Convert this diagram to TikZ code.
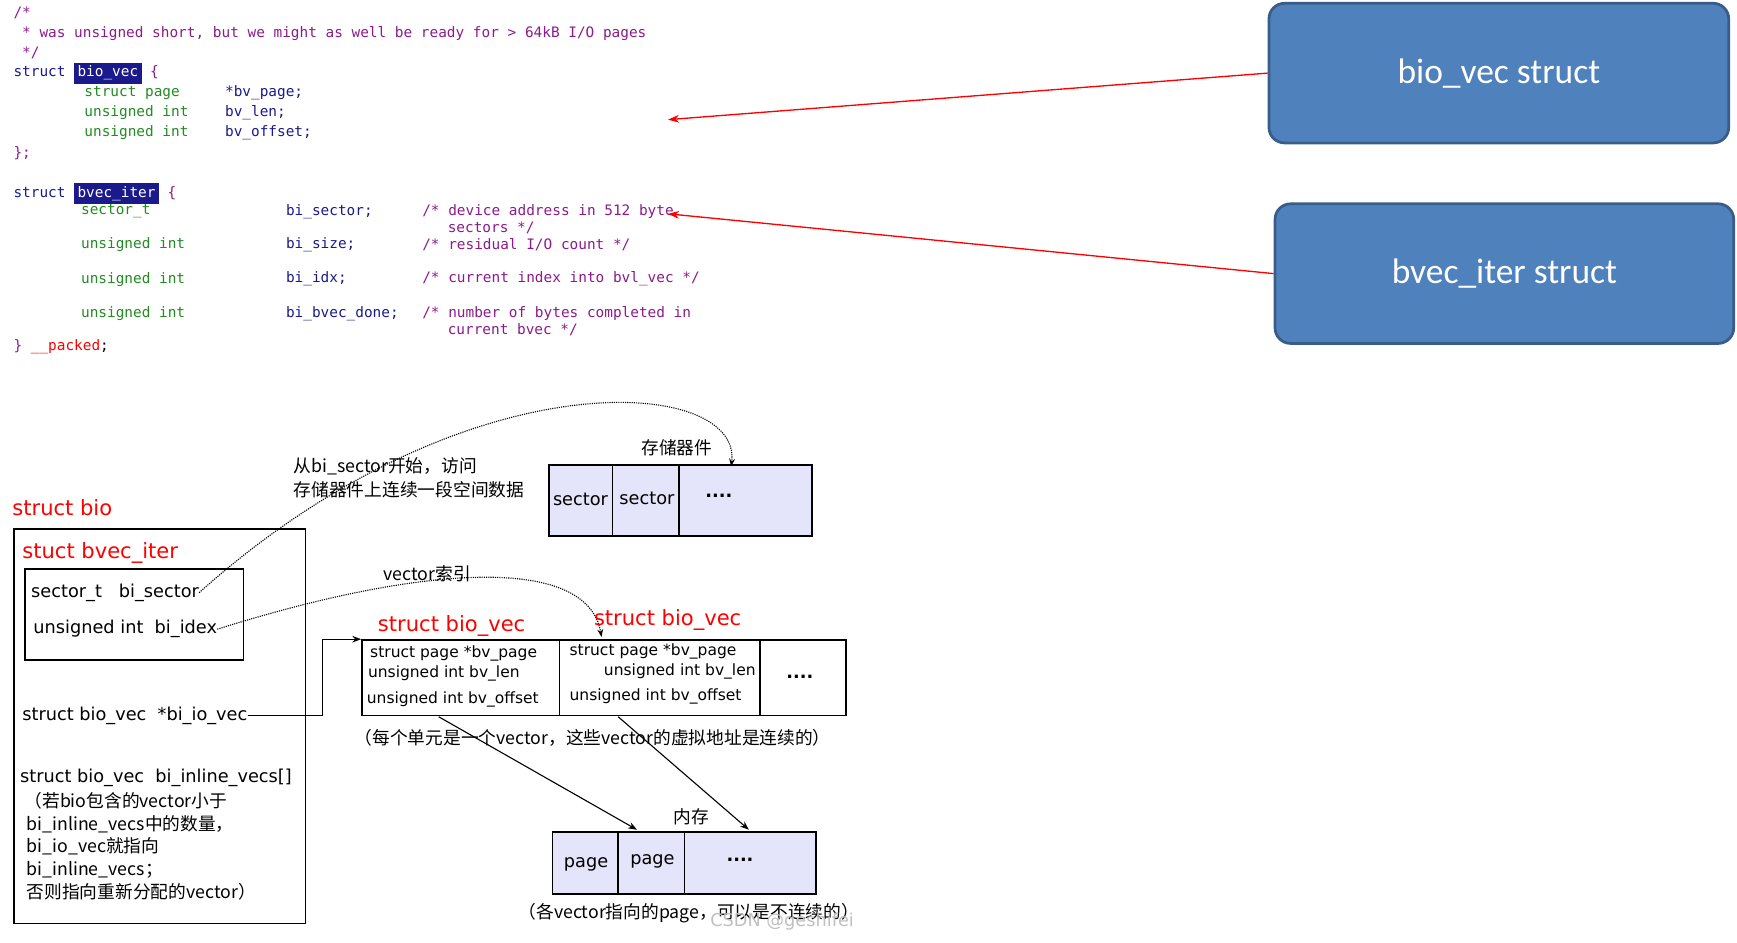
\documentclass[tikz,border=0pt]{standalone}
\usepackage{fontspec}
\setmainfont{DejaVu Sans}
\newfontfamily\cjk{Noto Sans CJK SC}
\newfontfamily\carl{Carlito}
\newfontfamily\mymono{DejaVu Sans Mono}
\usetikzlibrary{arrows.meta}
\definecolor{cpurple}{HTML}{8B1A8B}
\definecolor{cgreen}{HTML}{228B22}
\definecolor{cnavy}{HTML}{1A1A8C}
\definecolor{bluebox}{HTML}{4F81BD}
\definecolor{blueedge}{HTML}{385D8A}
\definecolor{lav}{HTML}{E4E4FA}
\begin{document}
\begin{tikzpicture}[x=1pt,y=-1pt,
 code/.style={anchor=west,inner sep=0,font=\mymono\fontsize{13}{13}\selectfont},
 lbl/.style={anchor=west,inner sep=0,font=\fontsize{16}{16}\selectfont},
 sm/.style={anchor=west,inner sep=0,font=\fontsize{14}{14}\selectfont},
 zh/.style={anchor=west,inner sep=0,font=\cjk\fontsize{16}{16}\selectfont},
 rtxt/.style={anchor=west,inner sep=0,text=red,font=\fontsize{19}{19}\selectfont},
 bbox/.style={draw=blueedge,line width=2.5pt,fill=bluebox,rounded corners=14pt,text=white,font=\carl\fontsize{32}{32}\selectfont},
 ra/.style={draw=red,line width=1.2pt,-{Stealth[length=10pt,width=7pt]}},
 bx/.style={draw,line width=1.5pt},
 dots/.style={densely dotted,line width=1pt,-{Stealth[length=7pt]}},
 ar/.style={line width=1pt,-{Stealth[length=8pt]}}]
\useasboundingbox (0,0) rectangle (1568,851);
% code
\node[code,cpurple] (c1) at (12,12) {/*};
\node[code,cpurple] (c2) at (12,30) {~* was unsigned short, but we might as well be ready for > 64kB I/O pages};
\node[code,cpurple] (c3) at (12,48) {~*/};
\node[code] (c4) at (12,66) {\textcolor{cnavy}{struct} \colorbox{cnavy}{\textcolor{white}{bio\_vec}} \textcolor{cpurple}{\{}};
\node[code,cgreen] (c5) at (76,84) {struct page};
\node[code,cnavy] (c5b) at (203,84) {*bv\_page;};
\node[code,cgreen] (c6) at (76,102) {unsigned int};
\node[code,cnavy] (c6b) at (203,102) {bv\_len;};
\node[code,cgreen] (c7) at (76,120) {unsigned int};
\node[code,cnavy] (c7b) at (203,120) {bv\_offset;};
\node[code,cpurple] (c8) at (12,138) {\};};
\node[code] (c9) at (12,175) {\textcolor{cnavy}{struct} \colorbox{cnavy}{\textcolor{white}{bvec\_iter}} \textcolor{cpurple}{\{}};
\node[code,cgreen] (d1) at (73,191) {sector\_t};
\node[code,cnavy] (d1b) at (258,191) {bi\_sector;};
\node[code,cpurple] (d1c) at (381,191) {/* device address in 512 byte};
\node[code,cpurple] (d1d) at (404,206) {sectors */};
\node[code,cgreen] (d2) at (73,221) {unsigned int};
\node[code,cnavy] (d2b) at (258,221) {bi\_size;};
\node[code,cpurple] (d2c) at (381,221) {/* residual I/O count */};
\node[code,cgreen] (d3) at (73,252) {unsigned int};
\node[code,cnavy] (d3b) at (258,252) {bi\_idx;};
\node[code,cpurple] (d3c) at (381,252) {/* current index into bvl\_vec */};
\node[code,cgreen] (d4) at (73,283) {unsigned int};
\node[code,cnavy] (d4b) at (258,283) {bi\_bvec\_done;};
\node[code,cpurple] (d4c) at (381,283) {/* number of bytes completed in};
\node[code,cpurple] (d4d) at (404,298) {current bvec */};
\node[code] (d5) at (12,313) {\textcolor{cpurple}{\}} \textcolor{red}{\_\_packed};};
% blue boxes
\node[bbox,minimum width=415pt,minimum height=126pt] (B1) at (1353,66) {bio\_vec struct};
\node[bbox,minimum width=414pt,minimum height=126pt] (B2) at (1358,247) {bvec\_iter struct};
\coordinate (t1) at (603,108);
\coordinate (t2) at (603,193);
\draw[ra] (B1.west) -- (t1);
\draw[ra] (B2.west) -- (t2);
% storage
\node[zh,anchor=center] (st) at (611,404) {存储器件};
\node[bx,fill=lav,minimum width=237pt,minimum height=64pt,anchor=north west,inner sep=0] (S) at (495,419) {};
\draw[line width=1.5pt] (553,419) -- (553,483) (613,419) -- (613,483);
\node[lbl,anchor=center] (s1) at (524,451) {sector};
\node[lbl,anchor=center] (s2) at (584,450) {sector};
\node[lbl,anchor=center,font=\bfseries\fontsize{16}{16}\selectfont] (s3) at (649,448) {....};
\node[zh] (z1) at (265,421) {从bi\_sector开始，访问};
\node[zh] (z2) at (265,442) {存储器件上连续一段空间数据};
% bio
\node[rtxt] (rb) at (11,458) {struct bio};
\node[bx,minimum width=263pt,minimum height=356pt,anchor=north west,inner sep=0] (BIO) at (12,477) {};
\node[rtxt] (rbi) at (20,499) {stuct bvec\_iter};
\node[bx,minimum width=197pt,minimum height=82pt,anchor=north west,inner sep=0] (IT) at (22,513) {};
\node[lbl] (sec) at (28,535) {sector\_t~~~bi\_sector};
\node[lbl] (idx) at (30,568) {unsigned int~~bi\_idex};
\coordinate (sd) at (660,421);
\draw[dots] (sec.east) .. controls (420,320) and (670,340) .. (sd);
\node[lbl,font=\cjk\fontsize{16}{16}\selectfont] (vi) at (346,518) {vector索引};
\coordinate (vd) at (543,575);
\draw[dots] (idx.east) .. controls (380,510) and (530,500) .. (vd);
\node[lbl] (io) at (20,646) {struct bio\_vec~~*bi\_io\_vec};
% bio_vec array
\node[rtxt] (rv1) at (341,565) {struct bio\_vec};
\node[rtxt] (rv2) at (536,560) {struct bio\_vec};
\node[bx,minimum width=437pt,minimum height=68pt,anchor=north west,inner sep=0] (V) at (326,577) {};
\draw[line width=1.5pt] (505,577) -- (505,645) (686,577) -- (686,645);
\draw[ar] (io.east) -- (291,646) |- (V.north west);
\node[sm] (v1) at (334,590) {struct page *bv\_page};
\node[sm] (v2) at (332,608) {unsigned int bv\_len};
\node[sm] (v3) at (331,631) {unsigned int bv\_offset};
\node[sm] (w1) at (514,588) {struct page *bv\_page};
\node[sm] (w2) at (545,606) {unsigned int bv\_len};
\node[sm] (w3) at (514,629) {unsigned int bv\_offset};
\node[lbl,anchor=center,font=\bfseries\fontsize{16}{16}\selectfont] (vd3) at (722,611) {....};
\node[zh] (n1) at (320,666) {（每个单元是一个vector，这些vector的虚拟地址是连续的）};
% memory
\node[zh,anchor=center] (mem) at (624,737) {内存};
\node[bx,fill=lav,minimum width=238pt,minimum height=56pt,anchor=north west,inner sep=0] (M) at (498,750) {};
\draw[line width=1.5pt] (558,750) -- (558,806) (618,750) -- (618,806);
\node[lbl,anchor=center] (p1) at (529,780) {page};
\node[lbl,anchor=center] (p2) at (589,778) {page};
\node[lbl,anchor=center,font=\bfseries\fontsize{16}{16}\selectfont] (p3) at (668,776) {....};
\coordinate (a1s) at (396,647); \coordinate (a1e) at (575,749);
\coordinate (a2s) at (558,647); \coordinate (a2e) at (676,749);
\draw[ar] (a1s) -- (a1e);
\draw[ar] (a2s) -- (a2e);
\node[zh] (n2) at (468,824) {（各vector指向的page，可以是不连续的）};
\node[lbl,anchor=center,text=black!25] (wm) at (706,832) {CSDN @geshifei};
% inline
\node[lbl] (in1) at (18,702) {struct bio\_vec~~bi\_inline\_vecs[]};
\node[zh] (in2) at (22,723) {（若bio包含的vector小于};
\node[zh] (in3) at (24,744) {bi\_inline\_vecs中的数量，};
\node[zh] (in4) at (24,764) {bi\_io\_vec就指向};
\node[zh] (in5) at (24,785) {bi\_inline\_vecs；};
\node[zh] (in6) at (24,805) {否则指向重新分配的vector）};
\end{tikzpicture}
\end{document}
